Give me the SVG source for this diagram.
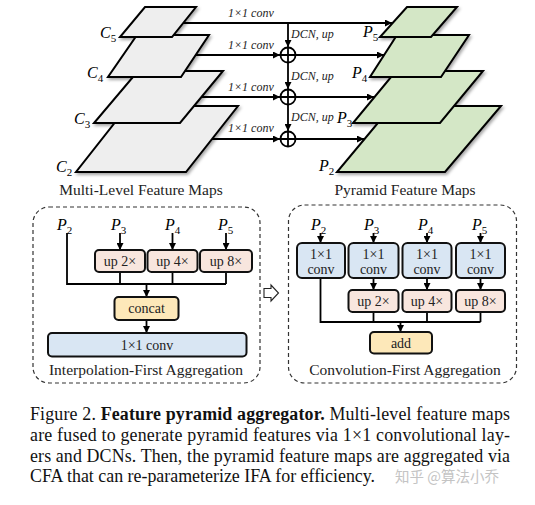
<svg xmlns="http://www.w3.org/2000/svg" width="535" height="505" viewBox="0 0 535 505">
<defs>
<marker id="ah" viewBox="0 0 10 10" refX="10" refY="5" markerWidth="7" markerHeight="7" orient="auto" markerUnits="userSpaceOnUse">
<path d="M0,0 L10,5 L0,10 z" fill="#000"/>
</marker>
<filter id="sh" x="-20%" y="-20%" width="140%" height="140%">
<feDropShadow dx="1.5" dy="2" stdDeviation="1.5" flood-color="#000" flood-opacity="0.35"/>
</filter>
<style>
.map{stroke:#000;stroke-width:2;stroke-linejoin:miter}
.cm{fill:#eeeeee}
.pm{fill:#d4e7c6}
.ln{fill:none;stroke:#000;stroke-width:1.8}
.ar{fill:none;stroke:#000;stroke-width:1.8;marker-end:url(#ah)}
.it{font-family:"Liberation Serif",serif;font-style:italic}
.lbl{font-family:"Liberation Serif",serif;font-size:15.5px;fill:#222}
.small{font-family:"Liberation Serif",serif;font-style:italic;font-size:12px;fill:#222}
.box{stroke:#111;stroke-width:2}
.up{fill:#f8e6de}
.yl{fill:#fde8b9}
.bl{fill:#d9e6f3}
.bt{font-family:"Liberation Serif",serif;font-size:14px;fill:#222;text-anchor:middle}
.dash{fill:none;stroke:#333;stroke-width:1.2;stroke-dasharray:4,3}
.cap{font-family:"Liberation Serif",serif;font-size:17.9px;fill:#111}
</style>
</defs>

<g id="connectors">
<line class="ar" x1="183" y1="23" x2="392" y2="23"/>
<line class="ar" x1="288" y1="23" x2="288" y2="47"/>
<line class="ar" x1="288" y1="63" x2="288" y2="89"/>
<line class="ar" x1="288" y1="105" x2="288" y2="131"/>
<line class="ar" x1="195" y1="55" x2="280" y2="55"/>
<line class="ar" x1="201" y1="97" x2="280" y2="97"/>
<line class="ar" x1="212" y1="139" x2="280" y2="139"/>
<line class="ar" x1="296" y1="55" x2="384" y2="55"/>
<line class="ar" x1="296" y1="97" x2="374" y2="97"/>
<line class="ar" x1="296" y1="139" x2="364" y2="139"/>
<!-- IFA -->
<polyline class="ln" points="67,233 67,284 226,284"/>
<line class="ar" x1="120" y1="233" x2="120" y2="250"/>
<line class="ar" x1="172.5" y1="233" x2="172.5" y2="250"/>
<line class="ar" x1="226" y1="233" x2="226" y2="250"/>
<line class="ln" x1="120" y1="272" x2="120" y2="284"/>
<line class="ln" x1="172.5" y1="272" x2="172.5" y2="284"/>
<line class="ln" x1="226" y1="272" x2="226" y2="284"/>
<line class="ar" x1="146.5" y1="284" x2="146.5" y2="297"/>
<line class="ar" x1="146.5" y1="320" x2="146.5" y2="333"/>
<!-- CFA -->
<line class="ar" x1="320.5" y1="233" x2="320.5" y2="243"/>
<line class="ar" x1="373.5" y1="233" x2="373.5" y2="243"/>
<line class="ar" x1="427" y1="233" x2="427" y2="243"/>
<line class="ar" x1="480.5" y1="233" x2="480.5" y2="243"/>
<line class="ar" x1="373.5" y1="278" x2="373.5" y2="290"/>
<line class="ar" x1="427" y1="278" x2="427" y2="290"/>
<line class="ar" x1="480.5" y1="278" x2="480.5" y2="290"/>
<polyline class="ln" points="320.5,278 320.5,322 480.5,322"/>
<line class="ln" x1="373.5" y1="312" x2="373.5" y2="322"/>
<line class="ln" x1="427" y1="312" x2="427" y2="322"/>
<line class="ln" x1="480.5" y1="312" x2="480.5" y2="322"/>
<line class="ar" x1="400.5" y1="322" x2="400.5" y2="332"/>
</g>

<g id="multi-level-maps" filter="url(#sh)">
<polygon id="C2" class="map cm" points="128,106 238,106 186,172 76,172"/>
<polygon id="C3" class="map cm" points="138,71 223,71 180,123 94,123"/>
<polygon id="C4" class="map cm" points="137,35 209,35 181,77 108,77"/>
<polygon id="C5" class="map cm" points="145,7 196,7 172,37 120,37"/>
</g>
<g id="pyramid-maps" filter="url(#sh)">
<polygon id="P2" class="map pm" points="392,106 501,106 445,172 337,172"/>
<polygon id="P3" class="map pm" points="396,71 483,71 440,123 353,123"/>
<polygon id="P4" class="map pm" points="397,35 469,35 441,77 370,77"/>
<polygon id="P5" class="map pm" points="407,7 457,7 431,37 380,37"/>
</g>

<g id="adders" fill="none" stroke="#000" stroke-width="1.8">
<g id="add1"><circle cx="288" cy="55" r="7.5"/><path d="M280.5,55 H295.5 M288,47.5 V62.5"/></g>
<g id="add2"><circle cx="288" cy="97" r="7.5"/><path d="M280.5,97 H295.5 M288,89.5 V104.5"/></g>
<g id="add3"><circle cx="288" cy="139" r="7.5"/><path d="M280.5,139 H295.5 M288,131.5 V146.5"/></g>
</g>

<g id="top-labels">
<text class="it" font-size="16" x="100" y="38">C<tspan font-size="11" font-style="normal" dy="4">5</tspan></text>
<text class="it" font-size="16" x="87" y="78">C<tspan font-size="11" font-style="normal" dy="4">4</tspan></text>
<text class="it" font-size="16" x="74" y="124">C<tspan font-size="11" font-style="normal" dy="4">3</tspan></text>
<text class="it" font-size="16" x="56" y="172">C<tspan font-size="11" font-style="normal" dy="4">2</tspan></text>
<text class="it" font-size="16" x="363" y="37">P<tspan font-size="11" font-style="normal" dy="4">5</tspan></text>
<text class="it" font-size="16" x="352" y="78">P<tspan font-size="11" font-style="normal" dy="4">4</tspan></text>
<text class="it" font-size="16" x="337" y="123">P<tspan font-size="11" font-style="normal" dy="4">3</tspan></text>
<text class="it" font-size="16" x="319" y="171">P<tspan font-size="11" font-style="normal" dy="4">2</tspan></text>
<text class="small" x="228" y="17">1×1 conv</text>
<text class="small" x="228" y="49">1×1 conv</text>
<text class="small" x="228" y="91">1×1 conv</text>
<text class="small" x="228" y="132">1×1 conv</text>
<text class="small" x="291" y="38">DCN, up</text>
<text class="small" x="291" y="80">DCN, up</text>
<text class="small" x="291" y="121">DCN, up</text>
<text class="lbl" x="141" y="195" text-anchor="middle">Multi-Level Feature Maps</text>
<text class="lbl" x="405" y="195" text-anchor="middle">Pyramid Feature Maps</text>
</g>

<g id="IFA">
<rect class="dash" x="33" y="207" width="227" height="176" rx="16"/>
<text class="it" font-size="16" x="57" y="230">P<tspan font-size="11" font-style="normal" dy="4">2</tspan></text>
<text class="it" font-size="16" x="111" y="230">P<tspan font-size="11" font-style="normal" dy="4">3</tspan></text>
<text class="it" font-size="16" x="165" y="230">P<tspan font-size="11" font-style="normal" dy="4">4</tspan></text>
<text class="it" font-size="16" x="218" y="230">P<tspan font-size="11" font-style="normal" dy="4">5</tspan></text>
<g id="ifa-up2"><rect class="box up" x="95" y="250" width="50" height="22" rx="4"/><text class="bt" x="120" y="266">up 2×</text></g>
<g id="ifa-up4"><rect class="box up" x="147.5" y="250" width="50" height="22" rx="4"/><text class="bt" x="172.5" y="266">up 4×</text></g>
<g id="ifa-up8"><rect class="box up" x="200" y="250" width="52" height="22" rx="4"/><text class="bt" x="226" y="266">up 8×</text></g>
<g id="ifa-concat"><rect class="box yl" x="114.5" y="297" width="64" height="23" rx="4"/><text class="bt" x="146.5" y="313">concat</text></g>
<g id="ifa-conv"><rect class="box bl" x="48" y="333" width="198.5" height="23.5" rx="4"/><text class="bt" x="147" y="350">1×1 conv</text></g>
<text class="lbl" x="146" y="375" text-anchor="middle">Interpolation-First Aggregation</text>
</g>

<g id="hollow-arrow">
<polygon points="264,288.5 271,288.5 271,285 278.5,293 271,301 271,297.5 264,297.5" fill="#fff" stroke="#222" stroke-width="1.1"/>
</g>

<g id="CFA">
<rect class="dash" x="288.5" y="205" width="228" height="178" rx="16"/>
<text class="it" font-size="16" x="311" y="230">P<tspan font-size="11" font-style="normal" dy="4">2</tspan></text>
<text class="it" font-size="16" x="364" y="230">P<tspan font-size="11" font-style="normal" dy="4">3</tspan></text>
<text class="it" font-size="16" x="418" y="230">P<tspan font-size="11" font-style="normal" dy="4">4</tspan></text>
<text class="it" font-size="16" x="472" y="230">P<tspan font-size="11" font-style="normal" dy="4">5</tspan></text>
<g id="cfa-conv2"><rect class="box bl" x="297" y="243" width="48" height="35" rx="5"/><text class="bt" x="321" y="259">1×1</text><text class="bt" x="321" y="274">conv</text></g>
<g id="cfa-conv3"><rect class="box bl" x="348.5" y="243" width="50" height="35" rx="5"/><text class="bt" x="373.5" y="259">1×1</text><text class="bt" x="373.5" y="274">conv</text></g>
<g id="cfa-conv4"><rect class="box bl" x="402.5" y="243" width="49" height="35" rx="5"/><text class="bt" x="427" y="259">1×1</text><text class="bt" x="427" y="274">conv</text></g>
<g id="cfa-conv5"><rect class="box bl" x="456" y="243" width="49" height="35" rx="5"/><text class="bt" x="480.5" y="259">1×1</text><text class="bt" x="480.5" y="274">conv</text></g>
<g id="cfa-up2"><rect class="box up" x="348.5" y="290" width="50" height="22" rx="4"/><text class="bt" x="373.5" y="306">up 2×</text></g>
<g id="cfa-up4"><rect class="box up" x="402.5" y="290" width="49" height="22" rx="4"/><text class="bt" x="427" y="306">up 4×</text></g>
<g id="cfa-up8"><rect class="box up" x="456" y="290" width="49" height="22" rx="4"/><text class="bt" x="480.5" y="306">up 8×</text></g>
<g id="cfa-add"><rect class="box yl" x="370" y="332" width="62" height="21.5" rx="4"/><text class="bt" x="401" y="347.5">add</text></g>
<text class="lbl" x="405" y="375" text-anchor="middle">Convolution-First Aggregation</text>
</g>

<g id="caption">
<text class="cap" x="30" y="420" textLength="480" lengthAdjust="spacing">Figure 2. <tspan font-weight="bold">Feature pyramid aggregator.</tspan> Multi-level feature maps</text>
<text class="cap" x="30" y="441" textLength="480" lengthAdjust="spacing">are fused to generate pyramid features via 1×1 convolutional lay-</text>
<text class="cap" x="30" y="461.5" textLength="480" lengthAdjust="spacing">ers and DCNs. Then, the pyramid feature maps are aggregated via</text>
<text class="cap" x="30" y="482">CFA that can re-parameterize IFA for efficiency.</text>
<text x="395" y="482" font-family="'Noto Sans CJK SC',sans-serif" font-size="14.5" fill="#c4c4c4">知乎 @算法小乔</text>
</g>
</svg>
